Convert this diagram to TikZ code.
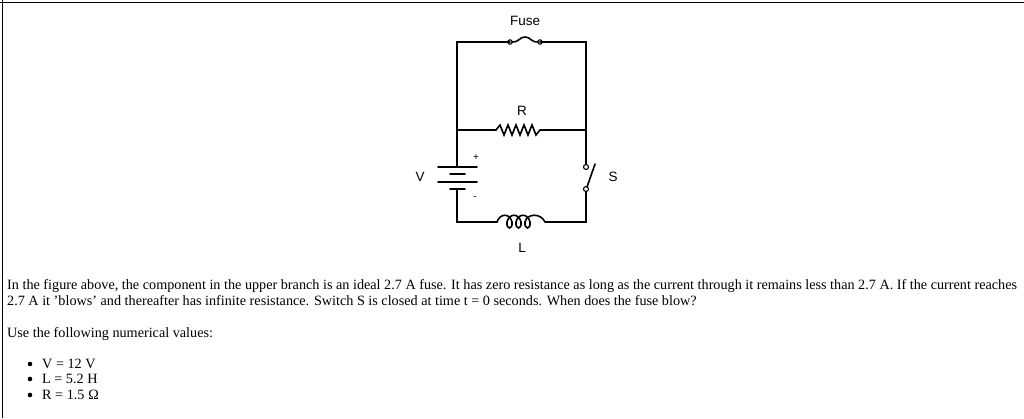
\documentclass[tikz,border=0pt]{standalone}
\usepackage{fontspec}
\setmainfont{Liberation Serif}
\newfontfamily\lab{Liberation Sans}
\begin{document}
\begin{tikzpicture}[x=1pt,y=-1pt,
  wire/.style={line width=1.6pt,line cap=round},
  lbl/.style={font=\lab\fontsize{13.5}{15}\selectfont,inner sep=0},
  txt/.style={font=\fontsize{14.2}{16}\selectfont,anchor=base west,inner sep=0}]
\useasboundingbox (0,0) rectangle (1024,418);
\draw[line width=1pt] (0,2) -- (1024,2);
\draw[line width=1pt] (2,0) -- (2,418);
% coordinates
\coordinate (tl) at (457,42); \coordinate (tr) at (586,42);
\coordinate (ml) at (457,130); \coordinate (mr) at (586,130);
\coordinate (bl) at (457,222); \coordinate (br) at (586,222);
\coordinate (f1) at (510,42); \coordinate (f2) at (540,42);
\coordinate (r1) at (493,130); \coordinate (r2) at (545,130);
\coordinate (bt) at (457,167); \coordinate (bb) at (457,189);
\coordinate (s1) at (586,167); \coordinate (s2) at (586,189);
\coordinate (l1) at (497,222); \coordinate (l2) at (545,222);
% wires
\draw[wire] (f1) -- (tl) -- (bt);
\draw[wire] (f2) -- (tr) -- (s1);
\draw[wire] (ml) -- (493,130) -- (496,130) -- (500,125) -- (504,135) -- (508,125) -- (512,135) -- (516,125) -- (520,135) -- (524,125) -- (528,135) -- (532,125) -- (536,135) -- (540,130) -- (mr);
\draw[wire] (bb) -- (bl) -- (l1); \draw[wire] (l2) -- (br) -- (s2);
% fuse
\draw[line width=1.1pt] (f1) circle (2.2) (f2) circle (2.2);
\draw[wire] (512,42) .. controls (520,42) and (519,37) .. (525,37) .. controls (531,37) and (530,42) .. (538,42);
% battery
\draw[wire] (438,167) -- (477,167);
\draw[wire] (450,174) -- (465,174);
\draw[wire] (438,182) -- (477,182);
\draw[wire] (450,189) -- (465,189);
% switch
\draw[line width=1.1pt,fill=white] (s1) circle (2.5) (s2) circle (2.5);
\draw[wire] (587,187) -- (595,164);
% inductor
\draw[wire] (l1) .. controls (500,213) and (510,213) .. (512,222) .. controls (513,230) and (506,230) .. (507,222)
  .. controls (509,213) and (519,213) .. (521,222) .. controls (522,230) and (515,230) .. (516,222)
  .. controls (518,213) and (528,213) .. (530,222) .. controls (531,230) and (524,230) .. (525,222)
  .. controls (527,213) and (541,213) .. (l2);
% labels
\node[lbl] (fuse) at (525,21) {Fuse};
\node[lbl] (R) at (522,111) {R};
\node[lbl] (V) at (420,177) {V};
\node[lbl] (S) at (613,177) {S};
\node[lbl] (L) at (522,248) {L};
\node[lbl,font=\lab\fontsize{10}{11}\selectfont] (plus) at (476,158) {+};
\node[lbl,font=\lab\fontsize{10}{11}\selectfont] (minus) at (475,198) {-};
% text
\node[txt] (t1) at (7,289) {In the figure above, the component in the upper branch is an ideal 2.7 A fuse. It has zero resistance as long as the current through it remains less than 2.7 A. If the current reaches};
\node[txt] (t2) at (7,305) {2.7 A it {\char"0027}blows{\char"0027} and thereafter has infinite resistance. Switch S is closed at time t = 0 seconds. When does the fuse blow?};
\node[txt] (t3) at (7,337) {Use the following numerical values:};
\foreach \y/\s [count=\i] in {368/{V = 12 V},383/{L = 5.2 H},399/{R = 1.5 \char"2126}}{
  \fill (30,\y-4) circle (2.3);
  \node[txt] (b\i) at (42,\y) {\s};
}
\end{tikzpicture}
\end{document}
